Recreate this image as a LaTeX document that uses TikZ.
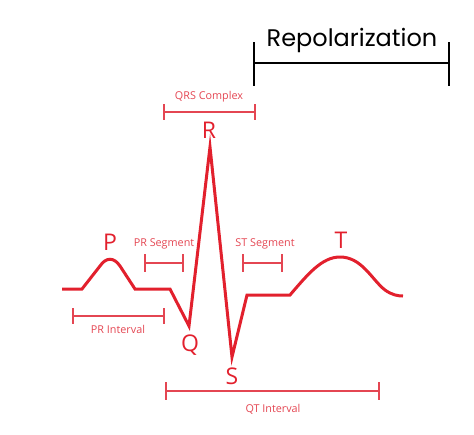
\documentclass[tikz,border=0pt]{standalone}
\usepackage{fontspec}
\setmainfont{Open Sans}
\newfontfamily\repfont{Poppins}
\definecolor{ecg}{RGB}{226,32,45}
\definecolor{lbl}{RGB}{228,70,82}
\begin{document}
\begin{tikzpicture}[x=1pt,y=-1pt,
  wave/.style={draw=ecg,line width=3pt,line join=miter,miter limit=20},
  brk/.style={draw=lbl,line width=1.6pt},
  blk/.style={draw=black,line width=2.4pt},
  small/.style={text=lbl,font=\fontsize{10.8}{12}\selectfont,inner sep=0pt},
  big/.style={text=ecg,font=\fontsize{23}{26}\selectfont,inner sep=0pt}]
\useasboundingbox (0,0) rectangle (474,434);
% Repolarization
\node[font=\repfont\fontsize{24}{28}\selectfont,inner sep=0pt] (rep) at (352,40) {Repolarization};
\coordinate (ra) at (254,63); \coordinate (rb) at (449,63);
\draw[blk] (254,42) -- (254,86); \draw[blk] (449,42) -- (449,86);
\draw[blk] (ra) -- (rb);
% QRS complex
\node[small] (qrs) at (209,97) {QRS Complex};
\coordinate (qa) at (164,112); \coordinate (qb) at (255,112);
\draw[brk] (qa) -- (qb); \draw[brk] (164,104) -- (164,120); \draw[brk] (255,104) -- (255,120);
% wave
\coordinate (w0) at (62,289);
\coordinate (w1) at (82,289);
\coordinate (w2) at (135,289);
\coordinate (w3) at (170,289);
\coordinate (qpt) at (189,326);
\coordinate (rpt) at (210,147);
\coordinate (spt) at (232,357);
\coordinate (w4) at (247,295);
\coordinate (w5) at (290,295);
\coordinate (tpk) at (340,257);
\coordinate (w6) at (403,296);
\draw[wave] (w0) -- (w1) -- (100,266) .. controls (106,257) and (114,257) .. (120,266) -- (w2) -- (w3) -- (qpt) -- (rpt) -- (spt) -- (w4) -- (w5)
  .. controls (308,274) and (322,257) .. (tpk) .. controls (362,257) and (372,280) .. (385,290) .. controls (392,295) and (398,296) .. (w6);
% big letters
\node[big] (P) at (110,242) {P};
\node[big] (R) at (209,130) {R};
\node[big] (Q) at (190,345) {Q};
\node[big] (S) at (232,376) {S};
\node[big] (T) at (341,240) {T};
% PR segment
\node[small] (prs) at (164,244) {PR Segment};
\draw[brk] (145,263) -- (183,263); \draw[brk] (145,254) -- (145,272); \draw[brk] (183,254) -- (183,272);
% ST segment
\node[small] (sts) at (265,244) {ST Segment};
\draw[brk] (243,263) -- (282,263); \draw[brk] (243,254) -- (243,272); \draw[brk] (282,254) -- (282,272);
% PR interval
\node[small] (pri) at (118,329) {PR Interval};
\draw[brk] (73,316) -- (164,316); \draw[brk] (73,308) -- (73,324); \draw[brk] (164,308) -- (164,324);
% QT interval
\node[small] (qti) at (273,409) {QT Interval};
\draw[brk] (166,391) -- (379,391); \draw[brk] (166,382) -- (166,400); \draw[brk] (379,382) -- (379,400);
\end{tikzpicture}
\end{document}
